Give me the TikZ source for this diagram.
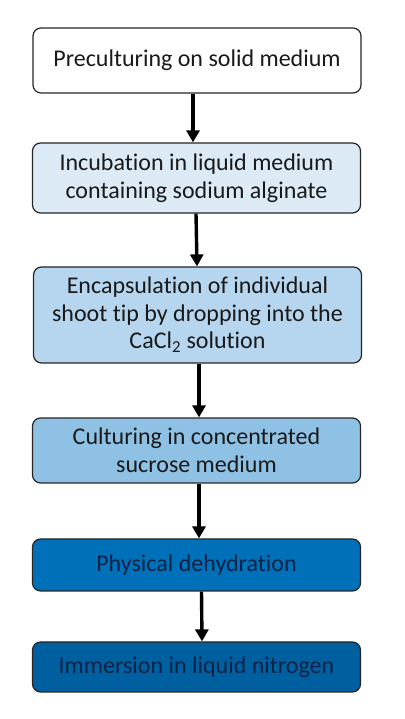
\documentclass[tikz,border=0pt]{standalone}
\usepackage{fontspec}
\setmainfont{Carlito}[Ligatures=NoCommon]
\usepackage{tikz}
\usetikzlibrary{arrows.meta}

\definecolor{stepwhite}{HTML}{FFFFFF}
\definecolor{steplight}{HTML}{DCEAF6}
\definecolor{stepsoft}{HTML}{B5D6EE}
\definecolor{stepmid}{HTML}{8FC1E5}
\definecolor{stepdeep}{HTML}{0070B8}
\definecolor{stepdark}{HTML}{005F9E}
\definecolor{navytext}{HTML}{0B2347}

\begin{document}
\begin{tikzpicture}[x=1pt,y=1pt,
  stepbox/.style={draw=black!85,line width=1.2pt,rounded corners=8pt,
    minimum width=328pt,align=center,inner sep=0pt,
    font=\fontsize{24}{27.5}\selectfont,text=black!90},
  flow/.style={-{Triangle[length=12pt,width=13pt]},line width=3.4pt}]

\useasboundingbox(0,0) rectangle (404,719);

\node[stepbox,fill=stepwhite,minimum height=65pt](pre) at (197,658.5){Preculturing on solid medium};
\node[stepbox,fill=steplight,minimum height=70pt](inc) at (196.5,541){Incubation in liquid medium\\containing sodium alginate};
\node[stepbox,fill=stepsoft,minimum height=96pt](enc) at (197.5,404){Encapsulation of individual\\shoot tip by dropping into the\\CaCl\textsubscript{2} solution};
\node[stepbox,fill=stepmid,minimum height=65pt](cul) at (196.5,268.5){Culturing in concentrated\\sucrose medium};
\node[stepbox,fill=stepdeep,minimum height=52pt,text=navytext](dry) at (196.5,154){Physical dehydration};
\node[stepbox,fill=stepdark,minimum height=50pt,text=navytext](lin) at (196.5,52){Immersion in liquid nitrogen};

\draw[flow]([xshift=-4pt]pre.south)--([xshift=-3.5pt]inc.north);
\draw[flow]([xshift=-0.5pt]inc.south)--([xshift=-0.5pt]enc.north);
\draw[flow]([xshift=1.5pt]enc.south)--([xshift=2.5pt]cul.north);
\draw[flow]([xshift=2.5pt]cul.south)--([xshift=2.5pt]dry.north);
\draw[flow]([xshift=5pt]dry.south)--([xshift=5.5pt]lin.north);

\end{tikzpicture}
\end{document}
